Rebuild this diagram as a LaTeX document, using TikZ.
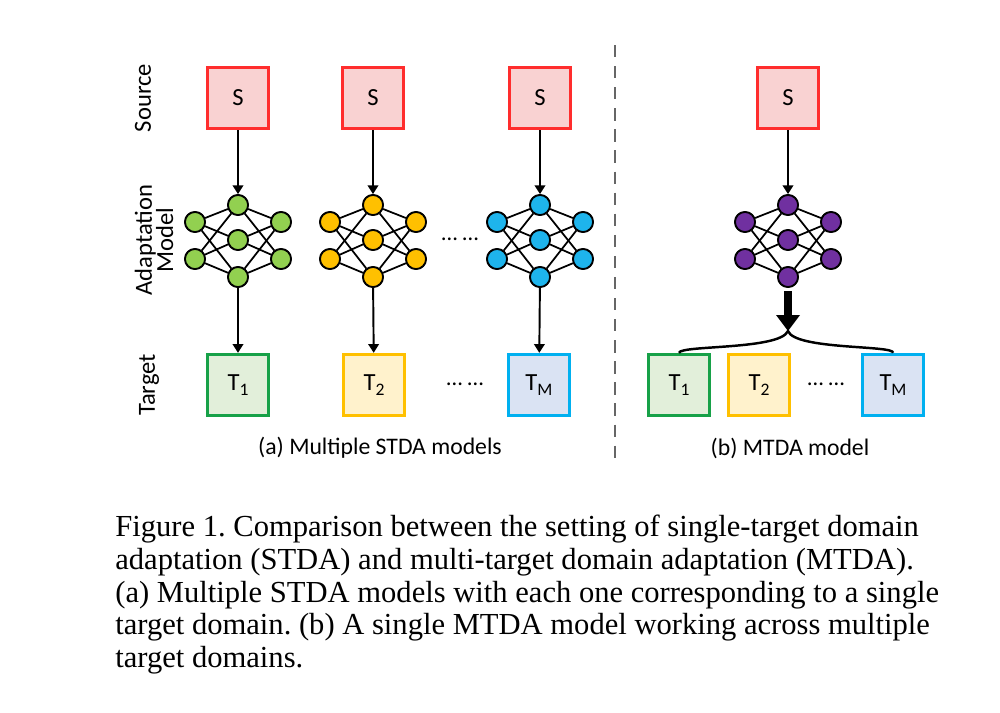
\documentclass[tikz,border=0pt]{standalone}
\usepackage{fontspec}
\setmainfont{Carlito}
\newfontfamily\capfont{Liberation Serif}
\usepackage{tikz}
\usetikzlibrary{arrows.meta,positioning}

\definecolor{srcborder}{HTML}{FF2D2D}
\definecolor{srcfill}{HTML}{F9D2D2}
\definecolor{grnborder}{HTML}{17A148}
\definecolor{grnfill}{HTML}{E2EFDA}
\definecolor{yelborder}{HTML}{FFC000}
\definecolor{yelfill}{HTML}{FFF2CC}
\definecolor{bluborder}{HTML}{00B0F0}
\definecolor{blufill}{HTML}{DAE3F3}
\definecolor{grnnode}{HTML}{92D050}
\definecolor{yelnode}{HTML}{FFC000}
\definecolor{blunode}{HTML}{1EB4EC}
\definecolor{purnode}{HTML}{7030A0}

\newcommand\sub[1]{\raisebox{-0.45ex}{\fontsize{10}{10}\selectfont #1}}

\tikzset{
  dom/.style={draw=#1border, fill=#1fill, line width=1.9pt, minimum size=1.22cm, inner sep=0pt, font=\fontsize{14}{16}\selectfont},
  neuron/.style={circle, draw=black, fill=#1, line width=1pt, minimum size=0.4cm, inner sep=0pt},
  link/.style={line width=1pt},
  flow/.style={-{Triangle[length=5pt,width=6pt]}, line width=1.1pt},
  axlabel/.style={rotate=90, align=center, font=\fontsize{14}{15}\selectfont},
  sublabel/.style={font=\fontsize{13.5}{15}\selectfont}
}

% network: prefix, centre x, centre y, colour
\newcommand\nnet[4]{
  \node[neuron=#4] (#1l1) at (#2-0.86, #3+0.36) {};
  \node[neuron=#4] (#1l2) at (#2-0.86, #3-0.38) {};
  \node[neuron=#4] (#1m1) at (#2, #3+0.7) {};
  \node[neuron=#4] (#1m2) at (#2, #3) {};
  \node[neuron=#4] (#1m3) at (#2, #3-0.74) {};
  \node[neuron=#4] (#1r1) at (#2+0.86, #3+0.36) {};
  \node[neuron=#4] (#1r2) at (#2+0.86, #3-0.38) {};
  \foreach \a in {l1,l2} \foreach \b in {m1,m2,m3}
    \draw[link] (#1\a) -- (#1\b);
  \foreach \a in {r1,r2} \foreach \b in {m1,m2,m3}
    \draw[link] (#1\a) -- (#1\b);
  \foreach \n in {l1,l2,m1,m2,m3,r1,r2}
    \node[neuron=#4] at (#1\n) {};
}

\begin{document}
\begin{tikzpicture}
  \useasboundingbox (0,0) rectangle (20,-14.26);

  % sources
  \node[dom=src] (s1) at (4.76,-1.96) {S};
  \node[dom=src] (s2) at (7.46,-1.96) {S};
  \node[dom=src] (s3) at (10.8,-1.96) {S};
  \node[dom=src] (s4) at (15.76,-1.96) {S};

  % networks
  \nnet{a}{4.76}{-4.8}{grnnode}
  \nnet{b}{7.46}{-4.8}{yelnode}
  \nnet{c}{10.8}{-4.8}{blunode}
  \nnet{d}{15.76}{-4.8}{purnode}

  % targets
  \node[dom=grn] (t1) at (4.76,-7.7) {T\sub{1}};
  \node[dom=yel] (t2) at (7.48,-7.7) {T\sub{2}};
  \node[dom=blu] (t3) at (10.78,-7.7) {T\sub{M}};
  \node[dom=grn] (u1) at (13.58,-7.7) {T\sub{1}};
  \node[dom=yel] (u2) at (15.18,-7.7) {T\sub{2}};
  \node[dom=blu] (u3) at (17.86,-7.7) {T\sub{M}};

  \draw[flow] (s1) -- (am1);
  \draw[flow] (s2) -- (bm1);
  \draw[flow] (s3) -- (cm1);
  \draw[flow] (s4) -- (dm1);
  \draw[flow] (am3) -- (t1);
  \draw[flow] (bm3) -- (t2);
  \draw[flow] (cm3) -- (t3);

  % shared output
  \coordinate (fork) at (15.76,-6.62);
  \draw[line width=4.5pt] ([yshift=-2pt]dm3.south) -- (15.76,-6.3);
  \fill (15.52,-6.3) -- (16.0,-6.3) -- (fork) -- cycle;
  \draw[line width=1.4pt] (u1.north) .. controls (13.6,-6.9) and (15.6,-7.0) .. (fork)
    .. controls (15.9,-7.0) and (17.9,-6.9) .. (u3.north);

  % dots
  \node[font=\fontsize{13}{14}\selectfont] (dots1) at (9.2,-4.78) {\dots\ \dots};
  \node[font=\fontsize{13}{14}\selectfont] (dots2) at (9.3,-7.68) {\dots\ \dots};
  \node[font=\fontsize{13}{14}\selectfont] (dots3) at (16.52,-7.68) {\dots\ \dots};

  % row labels
  \node[axlabel] (lsrc) at (2.86,-1.96) {Source};
  \node[axlabel] (ladp) at (3.08,-4.8) {Adaptation\\[-3pt]Model};
  \node[axlabel] (ltgt) at (2.98,-7.7) {Target};

  % separator and sub-captions
  \draw[line width=1.4pt, gray!80!black, dash pattern=on 7pt off 5pt] (12.3,-0.9) -- (12.3,-9.24);
  \node[sublabel] (capa) at (7.6,-8.96) {(a) Multiple STDA models};
  \node[sublabel] (capb) at (15.8,-8.96) {(b) MTDA model};

  % figure caption
  \node[anchor=north west, align=left, font=\capfont\fontsize{17.4}{18.6}\selectfont\frenchspacing, inner sep=0pt] (figcap) at (2.3,-10.3)
    {Figure 1. Comparison between the setting of single-target domain\\
     adaptation (STDA) and multi-target domain adaptation (MTDA).\\
     (a) Multiple STDA models with each one corresponding to a single\\
     target domain. (b) A single MTDA model working across multiple\\
     target domains.};
\end{tikzpicture}
\end{document}
